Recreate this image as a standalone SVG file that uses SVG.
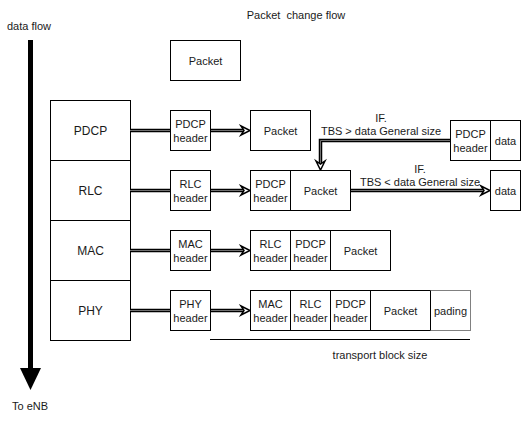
<svg xmlns="http://www.w3.org/2000/svg" width="522" height="421" viewBox="0 0 522 421">
<defs>
<style>
text{font-family:"Liberation Sans",Arial,sans-serif;font-size:11px;fill:#1a1a1a;text-anchor:middle;dominant-baseline:central}
.big{font-size:12px}
.box{fill:#fff;stroke:#000;stroke-width:1}
.pad{fill:#fff;stroke:#808080;stroke-width:1}
.lo{fill:none;stroke:#000;stroke-width:3.5}
.li{fill:none;stroke:#707070;stroke-width:1}
.ah{fill:#fff;stroke:#000;stroke-width:1.5;stroke-linejoin:miter}
</style>
<polygon id="head" class="ah" points="-9,-4.5 0,0 -9,4.5 -6,0"/>
</defs>
<rect width="522" height="421" fill="#fff"/>
<g id="titles">
<text x="296" y="15" xml:space="preserve">Packet  change flow</text>
<text x="29" y="26">data flow</text>
<text x="30" y="406">To eNB</text>
<text x="380" y="355">transport block size</text>
</g>
<g id="dataflow-arrow">
<rect x="28" y="40" width="5" height="330" fill="#000"/>
<polygon points="20,368 41,368 30.5,390" fill="#000"/>
</g>
<g id="packet-top"><rect class="box" x="170.5" y="40.5" width="70" height="40"/><text x="205.5" y="60.5">Packet</text></g>
<g id="layer-pdcp"><rect class="box" x="50.5" y="100.5" width="80" height="60"/><text class="big" x="90.5" y="130.5">PDCP</text></g>
<g id="layer-rlc"><rect class="box" x="50.5" y="160.5" width="80" height="60"/><text class="big" x="90.5" y="190.5">RLC</text></g>
<g id="layer-mac"><rect class="box" x="50.5" y="220.5" width="80" height="60"/><text class="big" x="90.5" y="250.5">MAC</text></g>
<g id="layer-phy"><rect class="box" x="50.5" y="280.5" width="80" height="60"/><text class="big" x="90.5" y="310.5">PHY</text></g>
<g id="connectors">
<path class="lo" d="M130,130.5H170M210,130.5H244"/><path class="li" d="M130,130.5H170M210,130.5H244"/>
<path class="lo" d="M130,190.5H170M210,190.5H244"/><path class="li" d="M130,190.5H170M210,190.5H244"/>
<path class="lo" d="M130,250.5H170M210,250.5H244"/><path class="li" d="M130,250.5H170M210,250.5H244"/>
<path class="lo" d="M130,310.5H170M210,310.5H244"/><path class="li" d="M130,310.5H170M210,310.5H244"/>
<path class="lo" d="M450,140.5H320.5V164"/><path class="li" d="M450,140.5H320.5V164"/>
<path class="lo" d="M350,190.5H484"/><path class="li" d="M350,190.5H484"/>
<use href="#head" transform="translate(250,130.5)"/>
<use href="#head" transform="translate(250,190.5)"/>
<use href="#head" transform="translate(250,250.5)"/>
<use href="#head" transform="translate(250,310.5)"/>
<use href="#head" transform="translate(320.5,170) rotate(90)"/>
<use href="#head" transform="translate(490,190.5)"/>
<line x1="210" y1="339.5" x2="470" y2="339.5" stroke="#000" stroke-width="1"/>
<text x="381" y="118">IF.</text>
<text x="381" y="131">TBS &gt; data General size</text>
<text x="420" y="169">IF.</text>
<text x="420" y="182">TBS &lt; data General size</text>
</g>
<g id="pdcp-header"><rect class="box" x="170.5" y="110.5" width="40" height="40"/><text x="190.5" y="123.5">PDCP</text><text x="190.5" y="137.5">header</text></g>
<g id="pdcp-packet"><rect class="box" x="250.5" y="110.5" width="60" height="40"/><text x="280.5" y="130.5">Packet</text></g>
<g id="split-pdcp-data"><rect class="box" x="450.5" y="120.5" width="40" height="40"/><text x="470.5" y="133.5">PDCP</text><text x="470.5" y="147.5">header</text><rect class="box" x="490.5" y="120.5" width="30" height="40"/><text x="505.5" y="140.5">data</text></g>
<g id="rlc-header"><rect class="box" x="170.5" y="170.5" width="40" height="40"/><text x="190.5" y="183.5">RLC</text><text x="190.5" y="197.5">header</text></g>
<g id="rlc-sdu"><rect class="box" x="250.5" y="170.5" width="40" height="40"/><text x="270.5" y="183.5">PDCP</text><text x="270.5" y="197.5">header</text><rect class="box" x="290.5" y="170.5" width="60" height="40"/><text x="320.5" y="190.5">Packet</text></g>
<g id="rlc-data"><rect class="box" x="490.5" y="170.5" width="30" height="40"/><text x="505.5" y="190.5">data</text></g>
<g id="mac-header"><rect class="box" x="170.5" y="230.5" width="40" height="40"/><text x="190.5" y="243.5">MAC</text><text x="190.5" y="257.5">header</text></g>
<g id="mac-sdu"><rect class="box" x="250.5" y="230.5" width="40" height="40"/><text x="270.5" y="243.5">RLC</text><text x="270.5" y="257.5">header</text><rect class="box" x="290.5" y="230.5" width="40" height="40"/><text x="310.5" y="243.5">PDCP</text><text x="310.5" y="257.5">header</text><rect class="box" x="330.5" y="230.5" width="60" height="40"/><text x="360.5" y="250.5">Packet</text></g>
<g id="phy-header"><rect class="box" x="170.5" y="290.5" width="40" height="40"/><text x="190.5" y="303.5">PHY</text><text x="190.5" y="317.5">header</text></g>
<g id="phy-sdu"><rect class="box" x="250.5" y="290.5" width="40" height="40"/><text x="270.5" y="303.5">MAC</text><text x="270.5" y="317.5">header</text><rect class="box" x="290.5" y="290.5" width="40" height="40"/><text x="310.5" y="303.5">RLC</text><text x="310.5" y="317.5">header</text><rect class="box" x="330.5" y="290.5" width="40" height="40"/><text x="350.5" y="303.5">PDCP</text><text x="350.5" y="317.5">header</text><rect class="box" x="370.5" y="290.5" width="60" height="40"/><text x="400.5" y="310.5">Packet</text><rect class="pad" x="430.5" y="290.5" width="40" height="40"/><line x1="430.5" y1="290.5" x2="430.5" y2="330.5" stroke="#000"/><text x="450.5" y="310.5">pading</text></g>
</svg>
